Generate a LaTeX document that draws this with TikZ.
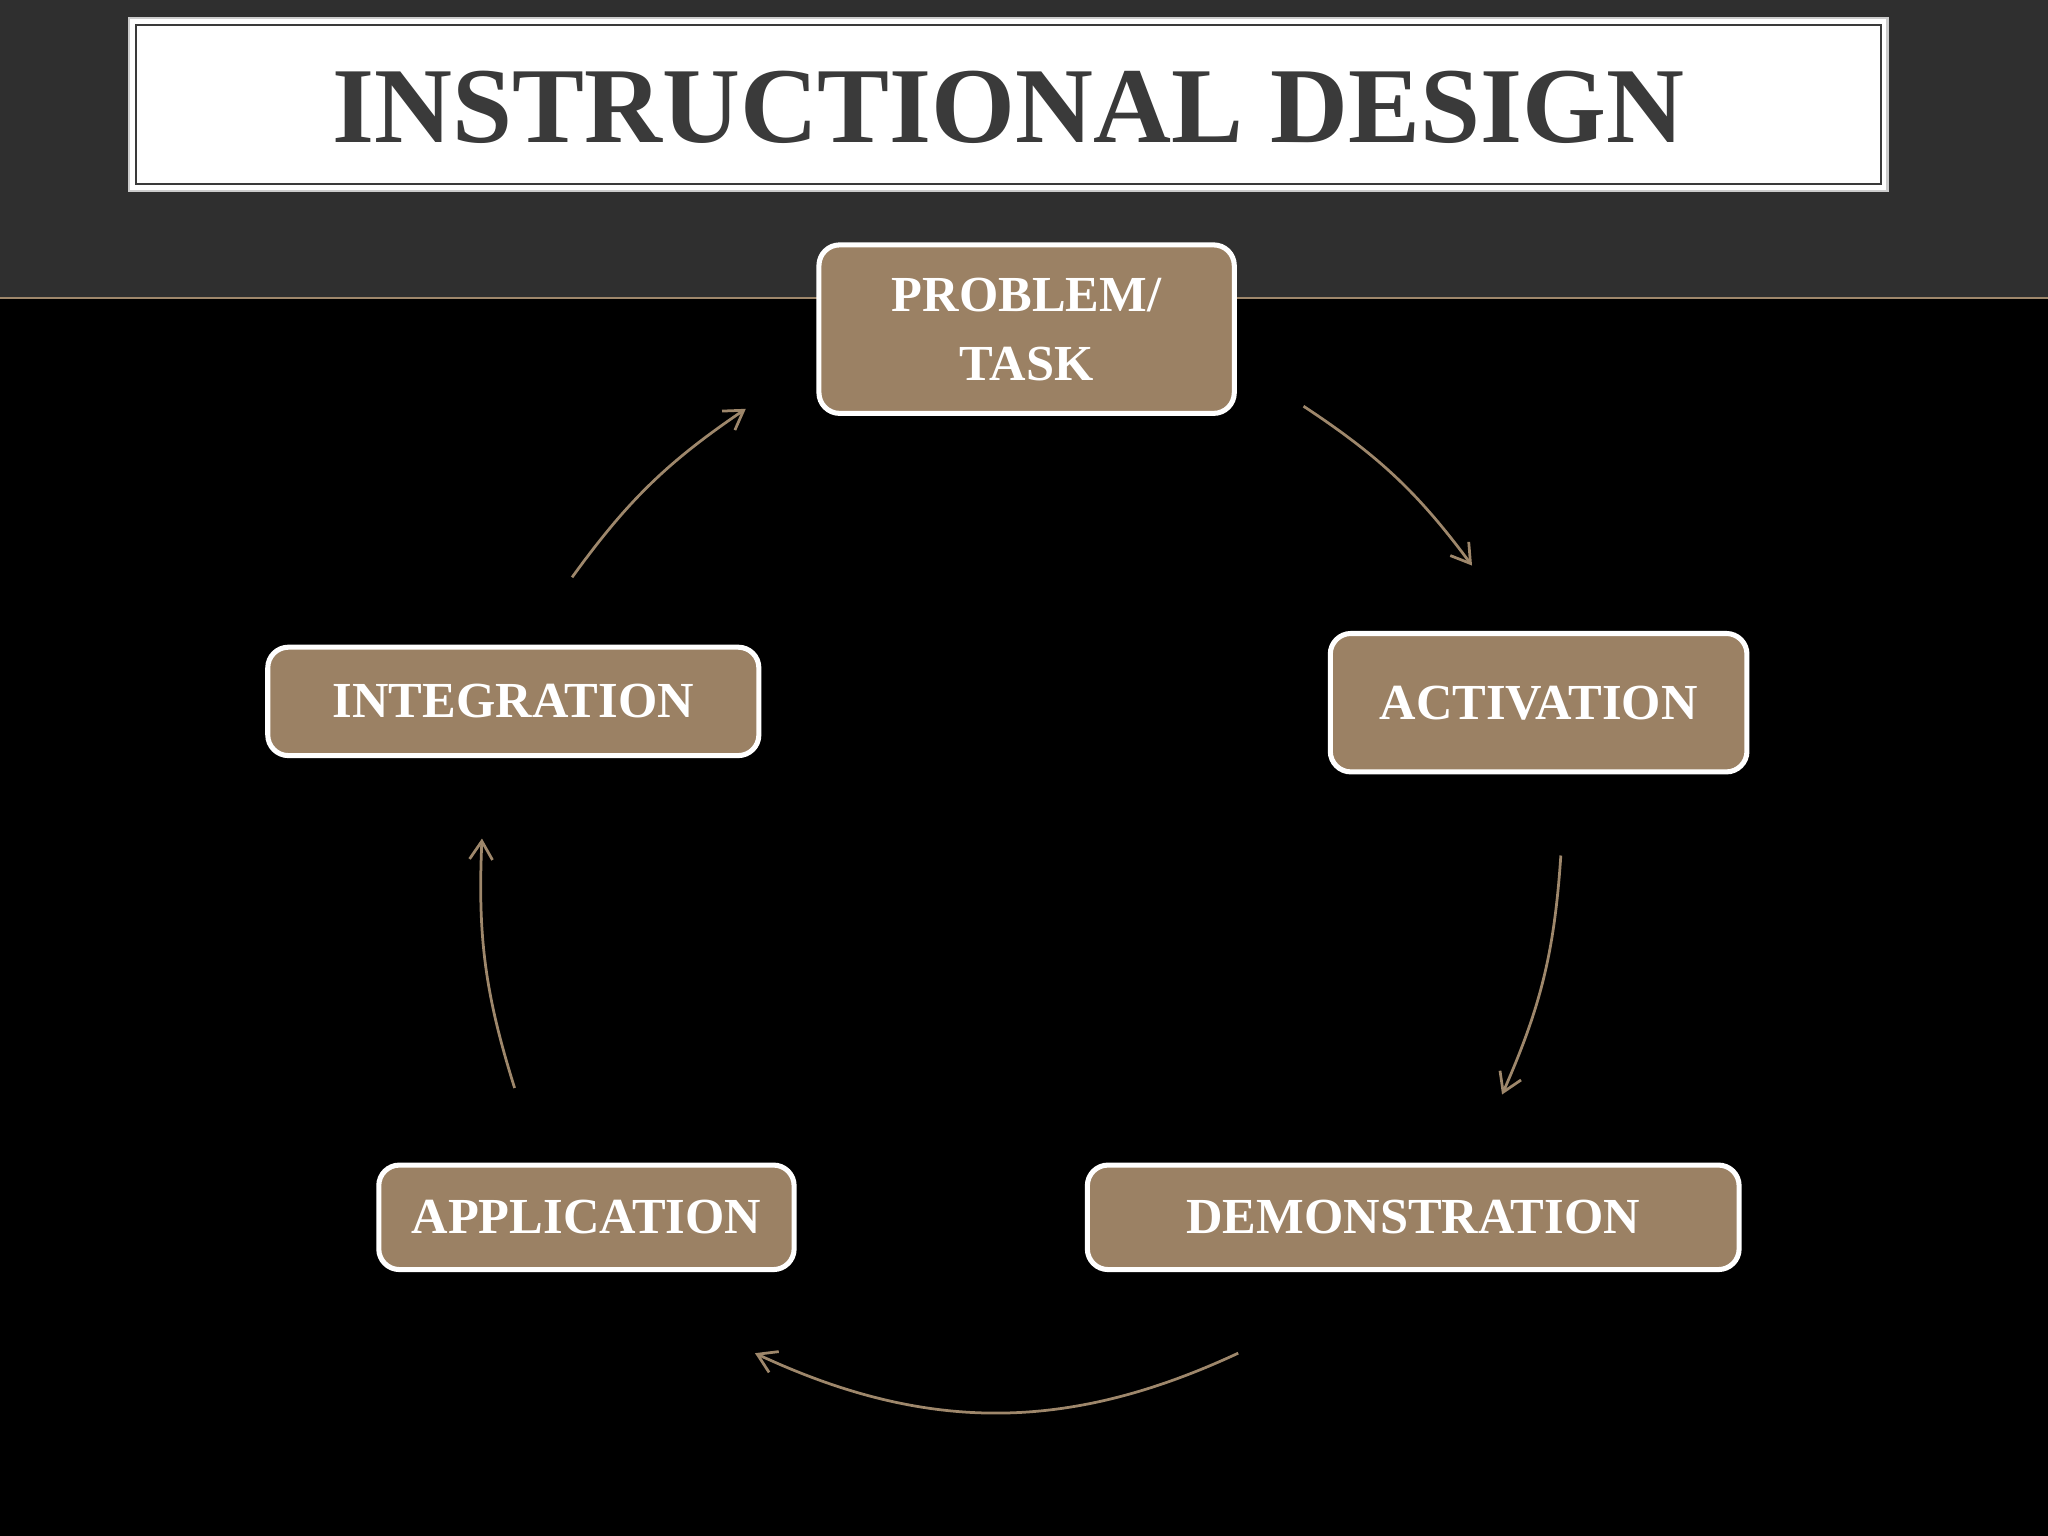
\documentclass[tikz,border=0pt]{standalone}
\usepackage{fontspec}
\setmainfont{Liberation Serif}
\begin{document}
\begin{tikzpicture}[x=0.02cm,y=-0.02cm,
  stage/.style={draw=white,line width=2.2pt,fill=boxbrown,rounded corners=9pt,text=white,font=\bfseries\fontsize{22}{30}\selectfont,align=center,inner sep=0pt},
  flow/.style={draw=arrowtan,line width=1.2pt,->,>={Straight Barb[length=8pt,width=10pt]}}]
\usetikzlibrary{arrows.meta}
\definecolor{boxbrown}{HTML}{9B8164}
\definecolor{arrowtan}{HTML}{9E876B}
\definecolor{band}{HTML}{2F2F2F}
\definecolor{titlegray}{HTML}{3A3A3A}
\fill[black] (0,0) rectangle (1568,1176);
\useasboundingbox (0,0) rectangle (1568,1176);
\fill[band] (0,0) rectangle (1568,228);
\draw[arrowtan,line width=1pt] (0,228) -- (1568,228);
\draw[white!80!black,line width=1pt,fill=white] (99,14) rectangle (1445,146);
\draw[titlegray,line width=1pt] (104,19) rectangle (1440,141);
\node[text=titlegray,font=\bfseries\fontsize{47}{50}\selectfont] (title) at (772,82) {INSTRUCTIONAL DESIGN};
\node[stage,minimum width=318*0.02cm,minimum height=129*0.02cm] (prob) at (786,252) {PROBLEM/\\TASK};
\node[stage,minimum width=319*0.02cm,minimum height=106*0.02cm] (act) at (1178,538) {ACTIVATION};
\node[stage,minimum width=376*0.02cm,minimum height=83*0.02cm] (integ) at (393,537) {INTEGRATION};
\node[stage,minimum width=318*0.02cm,minimum height=80*0.02cm] (app) at (449,932) {APPLICATION};
\node[stage,minimum width=499*0.02cm,minimum height=80*0.02cm] (demo) at (1082,932) {DEMONSTRATION};
\coordinate (a1) at (998,311); \coordinate (a2) at (1127,433);
\coordinate (b1) at (1195,655); \coordinate (b2) at (1150,838);
\coordinate (c1) at (948,1036); \coordinate (c2) at (578,1036);
\coordinate (d1) at (394,833); \coordinate (d2) at (369,642);
\coordinate (e1) at (438,442); \coordinate (e2) at (571,313);
\draw[flow] (a1) to[bend left=10] (a2);
\draw[flow] (b1) to[bend left=10] (b2);
\draw[flow] (c1) to[bend left=25] (c2);
\draw[flow] (d1) to[bend left=10] (d2);
\draw[flow] (e1) to[bend left=10] (e2);
\end{tikzpicture}
\end{document}
